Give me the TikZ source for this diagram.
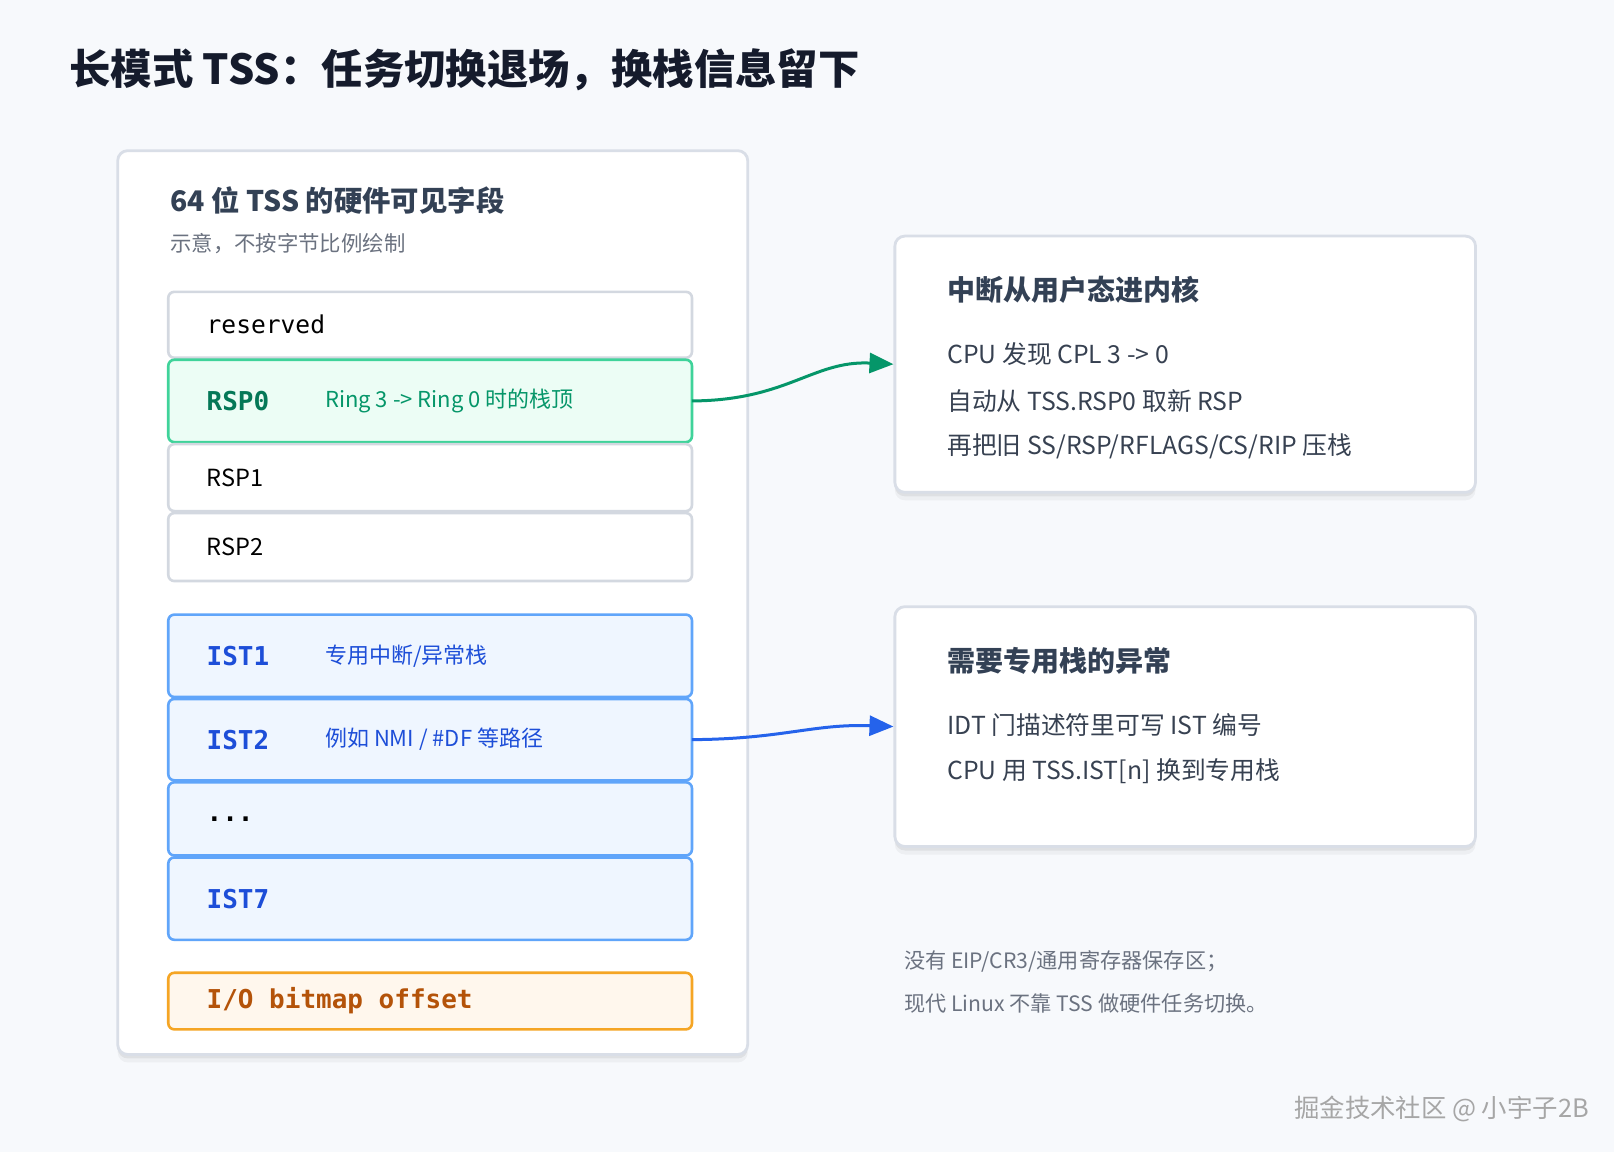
\documentclass[tikz,border=0pt]{standalone}
\usepackage{fontspec}
\setmainfont{Noto Sans CJK SC}
\setmonofont{DejaVu Sans Mono}
\usetikzlibrary{positioning,shadows,arrows.meta}
\definecolor{bg}{HTML}{F7F9FC}
\definecolor{edge}{HTML}{D9DEE7}
\definecolor{fieldedge}{HTML}{D3D8E0}
\definecolor{ink}{HTML}{151B2C}
\definecolor{slate}{HTML}{334155}
\definecolor{body}{HTML}{374151}
\definecolor{muted}{HTML}{6B7280}
\definecolor{greenline}{HTML}{3FD39A}
\definecolor{greenfill}{HTML}{ECFDF5}
\definecolor{greentext}{HTML}{047857}
\definecolor{greendesc}{HTML}{059669}
\definecolor{blueline}{HTML}{60A5FA}
\definecolor{bluefill}{HTML}{EFF6FF}
\definecolor{bluetext}{HTML}{1D4ED8}
\definecolor{bluearrow}{HTML}{2563EB}
\definecolor{orangeline}{HTML}{F5A524}
\definecolor{orangefill}{HTML}{FFF7ED}
\definecolor{orangetext}{HTML}{B45309}
\tikzstyle{panel} = [draw=edge, line width=1.4pt, fill=white, rounded corners=5pt,
    anchor=north west, inner sep=0pt,
    drop shadow={shadow xshift=0pt, shadow yshift=-2pt, opacity=0.06, fill=black},
    drop shadow={shadow xshift=0pt, shadow yshift=-4pt, opacity=0.04, fill=black}]
\tikzstyle{field} = [draw=fieldedge, line width=1.3pt, fill=white, rounded corners=3pt,
    minimum width=262pt, anchor=north west, inner sep=0pt, outer sep=0pt]
\tikzstyle{rspfield} = [field, draw=greenline, fill=greenfill]
\tikzstyle{istfield} = [field, draw=blueline, fill=bluefill]
\tikzstyle{iofield} = [field, draw=orangeline, fill=orangefill]
\tikzstyle{fieldname} = [inner sep=0pt, anchor=west, font=\ttfamily\fontsize{12.3}{14}\selectfont]
\tikzstyle{fieldbold} = [fieldname, font=\ttfamily\bfseries\fontsize{13}{15}\selectfont]
\tikzstyle{fielddesc} = [inner sep=0pt, anchor=west, font=\fontsize{11}{13}\selectfont]
\tikzstyle{cardtitle} = [inner sep=0pt, anchor=west, text=slate, font=\bfseries\fontsize{14}{17}\selectfont]
\tikzstyle{cardline} = [inner sep=0pt, anchor=west, text=body, font=\fontsize{12.4}{15}\selectfont]
\tikzstyle{remark} = [inner sep=0pt, anchor=west, text=muted, font=\fontsize{10.6}{13}\selectfont]
\tikzstyle{flow} = [line width=1.5pt, -{Triangle[length=12pt, width=10pt]}]

\begin{document}
\begin{tikzpicture}[x=0.515pt, y=-0.515pt, node distance=1pt]
    \useasboundingbox [fill=bg] (0,0) rectangle (1568,1119);
    \node [inner sep=0pt, anchor=west, text=ink, font=\bfseries\fontsize{20.7}{25}\selectfont]
        (heading) at (67,68) {长模式 TSS：任务切换退场，换栈信息留下};

    \node [panel, minimum width=315.2pt, minimum height=452.2pt] (tss) at (113,145) {};
    \node [cardtitle, font=\bfseries\fontsize{14.2}{17}\selectfont] (tsshead) at (165,195) {64 位 TSS 的硬件可见字段};
    \node [remark, font=\fontsize{10.7}{13}\selectfont] (tssnote) at (165,237) {示意，不按字节比例绘制};

    \node [field, minimum height=33pt] (reserved) at (163.5,283.5) {};
    \node [rspfield, minimum height=41.2pt, below=of reserved] (rspzero) {};
    \node [field, minimum height=33.5pt, below=of rspzero] (rspone) {};
    \node [field, minimum height=34pt, below=of rspone] (rsptwo) {};
    \node [istfield, minimum height=41.2pt, below=16.8pt of rsptwo] (istone) {};
    \node [istfield, minimum height=40.7pt, below=of istone] (isttwo) {};
    \node [istfield, minimum height=36.6pt, below=of isttwo] (istmore) {};
    \node [istfield, minimum height=41.2pt, below=of istmore] (istseven) {};
    \node [iofield, minimum height=28.3pt, below=16.5pt of istseven] (iomap) {};

    \node [fieldname, right=19pt of reserved.west] {reserved};
    \node [fieldbold, text=greentext, right=19pt of rspzero.west] {RSP0};
    \node [fielddesc, text=greendesc, right=78.3pt of rspzero.west] {Ring 3 -> Ring 0 时的栈顶};
    \node [fielddesc, font=\fontsize{11.8}{14}\selectfont, right=19pt of rspone.west] {RSP1};
    \node [fielddesc, font=\fontsize{11.8}{14}\selectfont, right=19pt of rsptwo.west] {RSP2};
    \node [fieldbold, text=bluetext, right=19pt of istone.west] {IST1};
    \node [fielddesc, text=bluetext, right=78.3pt of istone.west] {专用中断/异常栈};
    \node [fieldbold, text=bluetext, right=19pt of isttwo.west] {IST2};
    \node [fielddesc, text=bluetext, right=78.3pt of isttwo.west] {例如 NMI / \#DF 等路径};
    \node [fieldbold, right=19pt of istmore.west] {...};
    \node [fieldbold, text=bluetext, right=19pt of istseven.west] {IST7};
    \node [fieldbold, text=orangetext, right=19pt of iomap.west] {I/O bitmap offset};

    \node [panel, minimum width=290.5pt, minimum height=128.2pt] (userkernel) at (868,228) {};
    \node [cardtitle] at (920,282) {中断从用户态进内核};
    \node [cardline] at (920,344) {CPU 发现 CPL 3 -> 0};
    \node [cardline] at (920,390) {自动从 TSS.RSP0 取新 RSP};
    \node [cardline] at (920,434) {再把旧 SS/RSP/RFLAGS/CS/RIP 压栈};

    \node [panel, minimum width=290.5pt, minimum height=120pt] (ististack) at (868,588) {};
    \node [cardtitle] at (920,642) {需要专用栈的异常};
    \node [cardline] at (920,704) {IDT 门描述符里可写 IST 编号};
    \node [cardline] at (920,749) {CPU 用 TSS.IST[n] 换到专用栈};

    \node [remark] (nosave) at (878,934) {没有 EIP/CR3/通用寄存器保存区；};
    \node [remark] (nolinux) at (878,975) {现代 Linux 不靠 TSS 做硬件任务切换。};

    \draw [flow, draw=greendesc] (rspzero.east) .. controls (765,389) and (790,350) .. (userkernel.west);
    \draw [flow, draw=bluearrow] (isttwo.east) .. controls (760,718) and (790,703) .. (ististack.west);

    \node [inner sep=0pt, anchor=west, text=black!35, font=\fontsize{12.7}{15}\selectfont]
        (mark) at (1257,1077) {掘金技术社区 @ 小宇子2B};
\end{tikzpicture}
\end{document}
